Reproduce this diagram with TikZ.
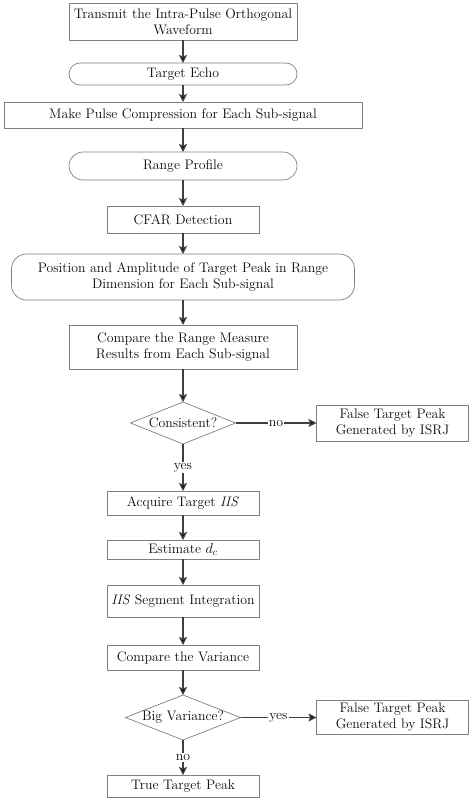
\documentclass[tikz,border=0pt]{standalone}
\usepackage{amsmath}
\usepackage{tikz}
\usetikzlibrary{arrows.meta,positioning,shapes.geometric}

\definecolor{boxgray}{RGB}{128,128,128}
\definecolor{arrgray}{RGB}{64,64,64}

\tikzset{
  box/.style={draw=boxgray,line width=0.7pt,inner xsep=2pt,inner ysep=0.5pt,outer sep=0pt},
  wide/.style={box,minimum width=228pt},
  narrow/.style={box,minimum width=152pt},
  pill/.style={wide,rounded corners=11pt},
  dec/.style={diamond,aspect=2.5,draw=boxgray,line width=0.7pt,inner sep=-1pt,outer sep=0pt},
  conn/.style={draw=arrgray,line width=1.3pt},
  lbl/.style={fill=white,inner sep=1pt}
}

\begin{document}
\begin{tikzpicture}[x=1pt,y=1pt,>={Stealth[length=8pt,width=8pt,inset=1.5pt]},align=center,
  font=\fontsize{13.8}{16}\selectfont,text=black!95]
\useasboundingbox (0,0) rectangle (474,-801);
\node[wide,minimum height=37pt] (s_1) at (183,-21.5) {Transmit the Intra-Pulse Orthogonal\\Waveform};
\node[pill,minimum height=22pt] [below=23pt of s_1] (s_2) {Target Echo};
\node[box,minimum width=358pt,minimum height=26pt] [below=17pt of s_2] (s_3) {Make Pulse Compression for Each Sub-signal};
\node[pill,minimum height=28pt,rounded corners=14pt] [below=24pt of s_3] (s_4) {Range Profile};
\node[narrow,minimum height=27pt] [below=26pt of s_4] (s_5) {CFAR Detection};
\node[pill,minimum width=343pt,minimum height=46pt,rounded corners=15pt] [below=21pt of s_5] (s_6) {Position and Amplitude of Target Peak in Range\\Dimension for Each Sub-signal};
\node[wide,minimum height=44pt] [below=25pt of s_6] (s_7) {Compare the Range Measure\\Results from Each Sub-signal};
\node[dec,minimum width=105pt,minimum height=42pt] [below=33pt of s_7] (d_1) {Consistent?};
\node[narrow,minimum height=36pt] [right=81pt of d_1] (f_1) {False Target Peak\\Generated by ISRJ};
\node[narrow,minimum height=24pt] [below=47pt of d_1] (s_8) {Acquire Target \textit{IIS}};
\node[narrow,minimum height=19pt] [below=25pt of s_8] (s_9) {Estimate $d_c$};
\node[narrow,minimum height=32pt] [below=26pt of s_9] (s_10) {\textit{IIS} Segment Integration};
\node[narrow,minimum height=25pt] [below=28pt of s_10] (s_11) {Compare the Variance};
\node[dec,minimum width=115pt,minimum height=45pt] [below=25pt of s_11] (d_2) {Big Variance?};
\node[narrow,minimum height=34pt] [right=76pt of d_2] (f_2) {False Target Peak\\Generated by ISRJ};
\node[narrow,minimum height=22pt] [below=35pt of d_2] (s_12) {True Target Peak};
\path[->,conn]
  (s_1) edge (s_2)
  (s_2) edge (s_3)
  (s_3) edge (s_4)
  (s_4) edge (s_5)
  (s_5) edge (s_6)
  (s_6) edge (s_7)
  (s_7) edge (d_1)
  (d_1) edge node[lbl] {no} (f_1)
  (d_1) edge node[lbl] {yes} (s_8)
  (s_8) edge (s_9)
  (s_9) edge (s_10)
  (s_10) edge (s_11)
  (s_11) edge (d_2)
  (d_2) edge node[lbl] {yes} (f_2)
  (d_2) edge node[lbl] {no} (s_12);
\end{tikzpicture}
\end{document}
